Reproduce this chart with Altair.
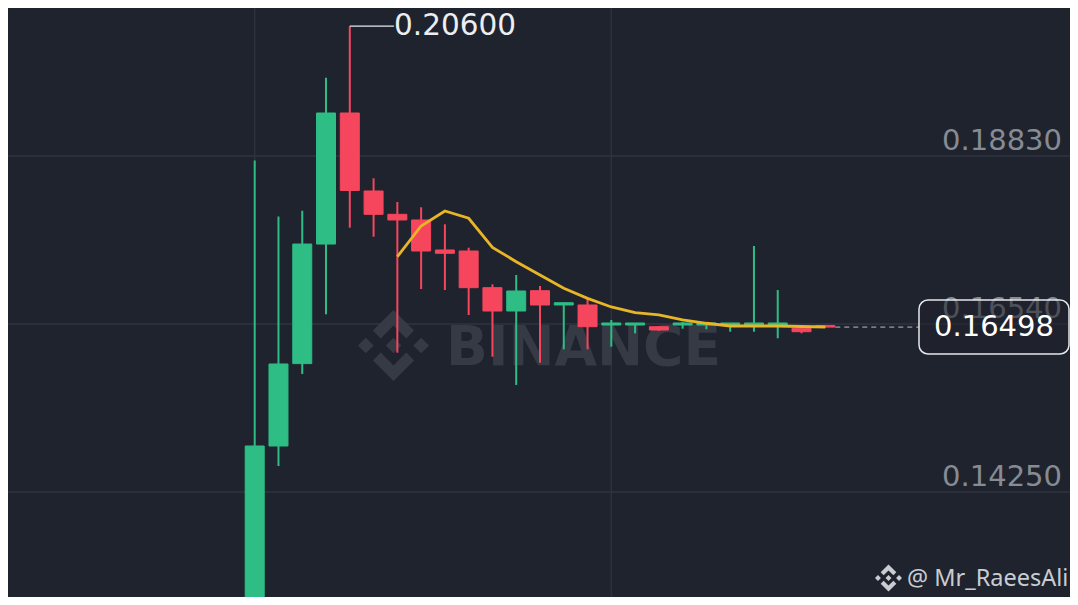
import altair as alt
import pandas as pd

# ---------------- data ----------------
idx = list(range(1, 26))
opens = [0.12100, 0.14877, 0.16000, 0.17630, 0.19416, 0.18353, 0.18035, 0.17958, 0.17549, 0.17535,
         0.17035, 0.16717, 0.16994, 0.16799, 0.16799, 0.16526, 0.16526, 0.16503, 0.16526, 0.16526,
         0.16526, 0.16526, 0.16526, 0.16481, 0.16520]
highs = [0.18770, 0.18005, 0.18084, 0.19897, 0.20600, 0.18526, 0.18203, 0.18131, 0.17899, 0.17580,
         0.17081, 0.17208, 0.17058, 0.16830, 0.16890, 0.16595, 0.16554, 0.16513, 0.16567, 0.16554,
         0.16554, 0.17603, 0.17003, 0.16490, 0.16525]
lows = [0.11900, 0.14604, 0.15858, 0.16672, 0.17853, 0.17730, 0.16149, 0.17017, 0.17003, 0.16663,
        0.16094, 0.15709, 0.16012, 0.16195, 0.16195, 0.16231, 0.16413, 0.16445, 0.16476, 0.16468,
        0.16435, 0.16435, 0.16345, 0.16413, 0.16490]
closes = [0.14877, 0.15995, 0.17630, 0.19416, 0.18360, 0.18035, 0.17958, 0.17535, 0.17504, 0.17035,
          0.16717, 0.16990, 0.16799, 0.16830, 0.16503, 0.16554, 0.16554, 0.16458, 0.16554, 0.16554,
          0.16554, 0.16554, 0.16554, 0.16435, 0.16498]

ma_idx = list(range(7, 26))
ma_vals = [0.17457, 0.17876, 0.18080, 0.17981, 0.17585, 0.17389, 0.17208, 0.17027, 0.16890, 0.16772,
           0.16694, 0.16663, 0.16595, 0.16550, 0.16513, 0.16513, 0.16513, 0.16506, 0.16499]

grid_prices = [0.18830, 0.16540, 0.14250]
vgrid_idx = [1, 16]
peak_idx = [5]
peak_price = [0.20600]
last_idx = [25]
last_price = [0.16498]

# ---------------- styling ----------------
BG = "#1f232e"
GREEN = "#2ebd85"
RED = "#f6465d"
GRID = "#2f3440"
LABEL = "#868b94"
WM = "#353a45"
FONT = "DejaVu Sans"
LOGO = ("M0,-1 L0.58,-0.42 L0.36,-0.2 L0,-0.56 L-0.36,-0.2 L-0.58,-0.42 Z "
        "M0,1 L0.58,0.42 L0.36,0.2 L0,0.56 L-0.36,0.2 L-0.58,0.42 Z "
        "M0,-0.22 L0.22,0 L0,0.22 L-0.22,0 Z "
        "M-1,0 L-0.78,-0.22 L-0.56,0 L-0.78,0.22 Z "
        "M1,0 L0.78,-0.22 L0.56,0 L0.78,0.22 Z")

df = pd.DataFrame(dict(i=idx, open=opens, high=highs, low=lows, close=closes))
df["dir"] = ["up" if c >= o else "down" for o, c in zip(opens, closes)]
ma_df = pd.DataFrame(dict(i=ma_idx, ma=ma_vals))
grid_df = pd.DataFrame(dict(p=grid_prices))
vgrid_df = pd.DataFrame(dict(i=vgrid_idx))
peak_df = pd.DataFrame(dict(i=peak_idx, p=peak_price))
last_df = pd.DataFrame(dict(i=last_idx, p=last_price))
one = pd.DataFrame(dict(k=[0]))

W, H = 1062, 589
xs = alt.Scale(domain=[-9.1667, -9.1667 + W / 24], nice=False, zero=False)
ys = alt.Scale(domain=[0.128187, 0.208474], nice=False, zero=False)
cscale = alt.Scale(domain=["up", "down"], range=[GREEN, RED])


def X(f="i"):
    return alt.X(f"{f}:Q", scale=xs, axis=None)


def Y(f):
    return alt.Y(f"{f}:Q", scale=ys, axis=None)


hgrid = alt.Chart(grid_df).mark_rule(color=GRID, strokeWidth=1.3).encode(y=Y("p"))
vgrid = alt.Chart(vgrid_df).mark_rule(color=GRID, strokeWidth=1.3).encode(x=X())

wm_logo = alt.Chart(one).mark_point(shape=LOGO, filled=True, size=5041, color=WM, opacity=1).encode(
    x=alt.value(385.5), y=alt.value(337.5))
wm_text = alt.Chart(one).mark_text(text="BINANCE", font="DejaVu Sans", fontWeight="bold", fontSize=55,
                                   color=WM, align="left", baseline="alphabetic").encode(
    x=alt.value(438), y=alt.value(357))

wicks = alt.Chart(df).mark_rule(strokeWidth=2, clip=True).encode(
    x=X(), y=Y("low"), y2="high:Q", color=alt.Color("dir:N", scale=cscale, legend=None))
bodies = alt.Chart(df).mark_bar(size=19, clip=True, strokeWidth=1, orient="vertical").encode(
    x=X(), y=Y("open"), y2="close:Q",
    color=alt.Color("dir:N", scale=cscale, legend=None),
    stroke=alt.Stroke("dir:N", scale=cscale, legend=None))

ma = alt.Chart(ma_df).mark_line(color="#e7b526", strokeWidth=2.8).encode(x=X(), y=Y("ma"))

dash = alt.Chart(last_df).mark_rule(color="#b7bdc6", strokeWidth=1, strokeDash=[5, 4], xOffset=10).encode(
    x=X(), x2=alt.value(911), y=Y("p"))

peak_line = alt.Chart(peak_df).mark_rule(color="#e6e8eb", strokeWidth=1.2).encode(
    x=X(), x2=alt.value(386), y=Y("p"))
peak_text = alt.Chart(peak_df).mark_text(font=FONT, fontSize=29.5, color="#eceef1", align="left",
                                          baseline="middle").encode(
    x=alt.value(386), y=Y("p"), text=alt.Text("p:Q", format=".5f"))

axis_labels = alt.Chart(grid_df).mark_text(font=FONT, fontSize=29, color=LABEL, align="right",
                                           baseline="alphabetic", dy=-6).encode(
    x=alt.value(1054), y=Y("p"), text=alt.Text("p:Q", format=".5f"))

box = alt.Chart(one).mark_rect(fill=BG, fillOpacity=0.55, stroke="#e6e8eb", strokeWidth=1.5,
                               cornerRadius=9).encode(
    x=alt.value(911), x2=alt.value(1061), y=alt.value(292), y2=alt.value(346))
box_text = alt.Chart(last_df).mark_text(font=FONT, fontSize=29, color="#ffffff", align="center",
                                        baseline="middle").encode(
    x=alt.value(986), y=Y("p"), text=alt.Text("p:Q", format=".5f"))

sig_logo = alt.Chart(one).mark_point(shape=LOGO, filled=True, size=729, color="#c9ccd1", opacity=1).encode(
    x=alt.value(880.5), y=alt.value(570))
sig_text = alt.Chart(one).mark_text(text="@ Mr_RaeesAli", font="Noto Sans", fontSize=23.5, color="#c9ccd1",
                                    align="left", baseline="alphabetic").encode(
    x=alt.value(899), y=alt.value(578))

chart = alt.layer(
    hgrid, vgrid, wm_logo, wm_text, wicks, bodies, ma, dash, peak_line, peak_text,
    axis_labels, box, box_text, sig_logo, sig_text
).properties(
    width=W, height=H, padding=0, background=BG,
    autosize=alt.AutoSizeParams(type="none")
).configure_view(stroke=None)

chart.save("out.html", embed_options={"renderer": "svg", "actions": False})
